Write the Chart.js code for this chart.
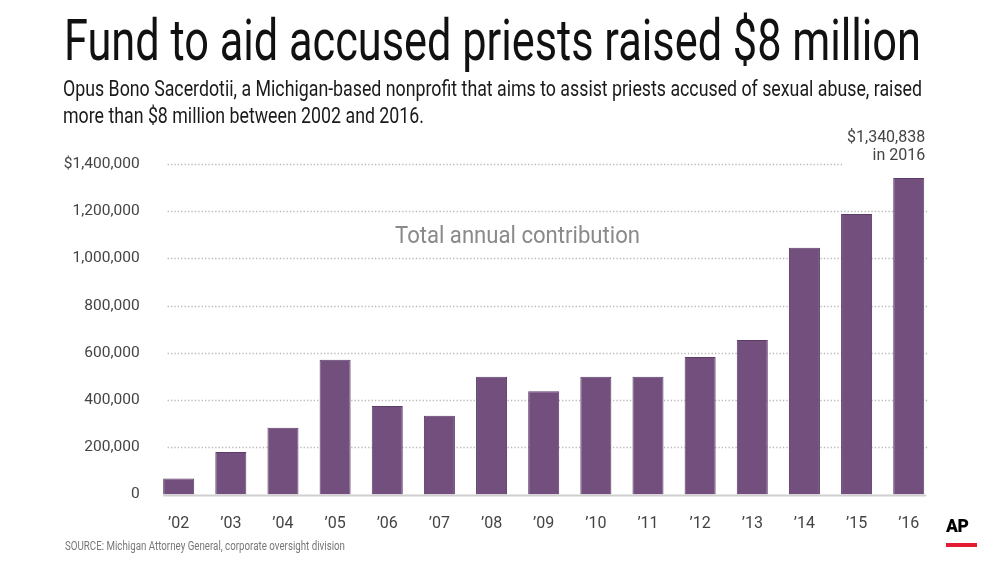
<!DOCTYPE html>
<html>
<head>
<meta charset="utf-8">
<script src="https://cdn.jsdelivr.net/npm/chart.js@4"></script>
<style>
  html, body { margin: 0; padding: 0; background: #fff; }
  #stage { position: relative; width: 1000px; height: 563px; overflow: hidden; background: #fff; }
  #chartWrap { position: absolute; left: 0; top: 0; width: 1000px; height: 563px; }
  .txt { position: absolute; white-space: nowrap; line-height: 1; font-family: Roboto, "Liberation Sans", sans-serif; transform-origin: 0 0; z-index: 2; }
  #title { left: 64px; top: 11px; font-size: 58px; color: #111; }
  #sub1 { left: 63px; top: 77px; font-size: 22.5px; color: #1a1a1a; }
  #sub2 { left: 63px; top: 103.7px; font-size: 22.5px; color: #1a1a1a; }
  #inner { left: 395px; top: 223px; font-size: 24px; color: #8a8a8a; }
  #source { left: 65px; top: 540px; font-size: 12px; color: #777; }
  #ap { left: 946px; top: 518px; font-size: 17.5px; font-weight: 900; color: #000; letter-spacing: -0.5px; }
  #apbar { position: absolute; left: 946px; top: 543px; width: 31px; height: 3.5px; background: #e41e32; z-index: 2; }
</style>
</head>
<body>
<div id="stage">
  <div id="chartWrap"><canvas id="c" width="1000" height="563"></canvas></div>
  <div class="txt" id="title" data-w="857">Fund to aid accused priests raised $8 million</div>
  <div class="txt" id="sub1" data-w="859">Opus Bono Sacerdotii, a Michigan-based nonprofit that aims to assist priests accused of sexual abuse, raised</div>
  <div class="txt" id="sub2" data-ref="sub1">more than $8 million between 2002 and 2016.</div>
  <div class="txt" id="inner" data-w="245">Total annual contribution</div>
  <div class="txt" id="source" data-w="280">SOURCE: Michigan Attorney General, corporate oversight division</div>
  <div class="txt" id="ap">AP</div>
  <div id="apbar"></div>
</div>
<script>
// ---- Data ----
const years = ['\u201902','\u201903','\u201904','\u201905','\u201906','\u201907','\u201908','\u201909','\u201910','\u201911','\u201912','\u201913','\u201914','\u201915','\u201916'];
const contributions = [68000, 180000, 283000, 571000, 375000, 334000, 499000, 437000, 499000, 499000, 582000, 654000, 1045000, 1188000, 1340838];
const yTickValues = [0, 200000, 400000, 600000, 800000, 1000000, 1200000, 1400000];
const yTickLabels = ['0', '200,000', '400,000', '600,000', '800,000', '1,000,000', '1,200,000', '$1,400,000'];
const annotationLines = ['$1,340,838', 'in 2016'];

// ---- fit condensed-looking text ----
const scales = {};
document.querySelectorAll('.txt').forEach(el => {
  const w = el.getAttribute('data-w');
  if (w) {
    const s = parseFloat(w) / el.getBoundingClientRect().width;
    scales[el.id] = s;
    el.style.transform = 'scaleX(' + s + ')';
  }
});
document.querySelectorAll('.txt[data-ref]').forEach(el => {
  const s = scales[el.getAttribute('data-ref')];
  el.style.transform = 'scaleX(' + s + ')';
});

const gridPlugin = {
  id: 'dotGrid',
  beforeDatasetsDraw(chart) {
    const {ctx, chartArea, scales: {y}} = chart;
    const meta = chart.getDatasetMeta(0);
    const first = meta.data[0], last = meta.data[meta.data.length - 1];
    const x0 = chartArea.left + 15;
    const x1 = chartArea.right - 7;
    ctx.save();
    ctx.font = '16px Roboto, "Liberation Sans", sans-serif';
    const annW = ctx.measureText(annotationLines[0]).width;
    const annLeft = last.x + last.width / 2 - annW;
    ctx.strokeStyle = '#b8b8b8';
    ctx.lineWidth = 1.3;
    ctx.setLineDash([1.3, 2.1]);
    yTickValues.forEach(v => {
      if (v === 0) return;
      const py = Math.round(y.getPixelForValue(v)) + 0.5;
      const end = (v === yTickValues[yTickValues.length - 1]) ? annLeft - 4 : x1;
      ctx.beginPath();
      ctx.moveTo(x0, py);
      ctx.lineTo(end, py);
      ctx.stroke();
    });
    ctx.setLineDash([]);
    // baseline
    ctx.strokeStyle = '#cfcfcf';
    ctx.lineWidth = 2;
    const by = y.getPixelForValue(0) + 1;
    ctx.beginPath();
    ctx.moveTo(first.x - first.width / 2, by);
    ctx.lineTo(last.x + last.width / 2 + 2, by);
    ctx.stroke();
    ctx.restore();
  },
  afterDatasetsDraw(chart) {
    const {ctx} = chart;
    const meta = chart.getDatasetMeta(0);
    const last = meta.data[meta.data.length - 1];
    ctx.save();
    ctx.font = '16px Roboto, "Liberation Sans", sans-serif';
    ctx.fillStyle = '#444';
    ctx.textAlign = 'right';
    ctx.textBaseline = 'alphabetic';
    const rx = last.x + last.width / 2 + 1;
    ctx.fillText(annotationLines[0], rx, last.y - 36);
    ctx.fillText(annotationLines[1], rx, last.y - 17.7);
    ctx.restore();
  }
};

new Chart(document.getElementById('c'), {
  type: 'bar',
  data: {
    labels: years,
    datasets: [{
      data: contributions,
      backgroundColor: '#734f7e',
      borderColor: '#5c3b69',
      borderWidth: 1,
      categoryPercentage: 1,
      barPercentage: 0.595
    }]
  },
  options: {
    responsive: false,
    animation: false,
    events: [],
    layout: { padding: { left: 0, right: 65.2, top: 164, bottom: 28.5 } },
    plugins: { legend: { display: false }, tooltip: { enabled: false } },
    scales: {
      x: {
        grid: { display: false },
        border: { display: false },
        ticks: { color: '#444', font: { family: 'Roboto, "Liberation Sans", sans-serif', size: 16 }, padding: 12, maxRotation: 0 },
        afterFit(s) { s.height = 40; }
      },
      y: {
        min: 0,
        max: 1400000,
        grid: { display: false, drawTicks: false },
        border: { display: false },
        afterBuildTicks(s) { s.ticks = yTickValues.map(v => ({ value: v })); },
        ticks: {
          color: '#444',
          padding: 13,
          font: { family: 'Roboto, "Liberation Sans", sans-serif', size: 15.5 },
          callback: (v) => yTickLabels[yTickValues.indexOf(v)]
        },
        afterFit(s) { s.width = 152.6; }
      }
    }
  },
  plugins: [gridPlugin]
});
</script>
</body>
</html>
